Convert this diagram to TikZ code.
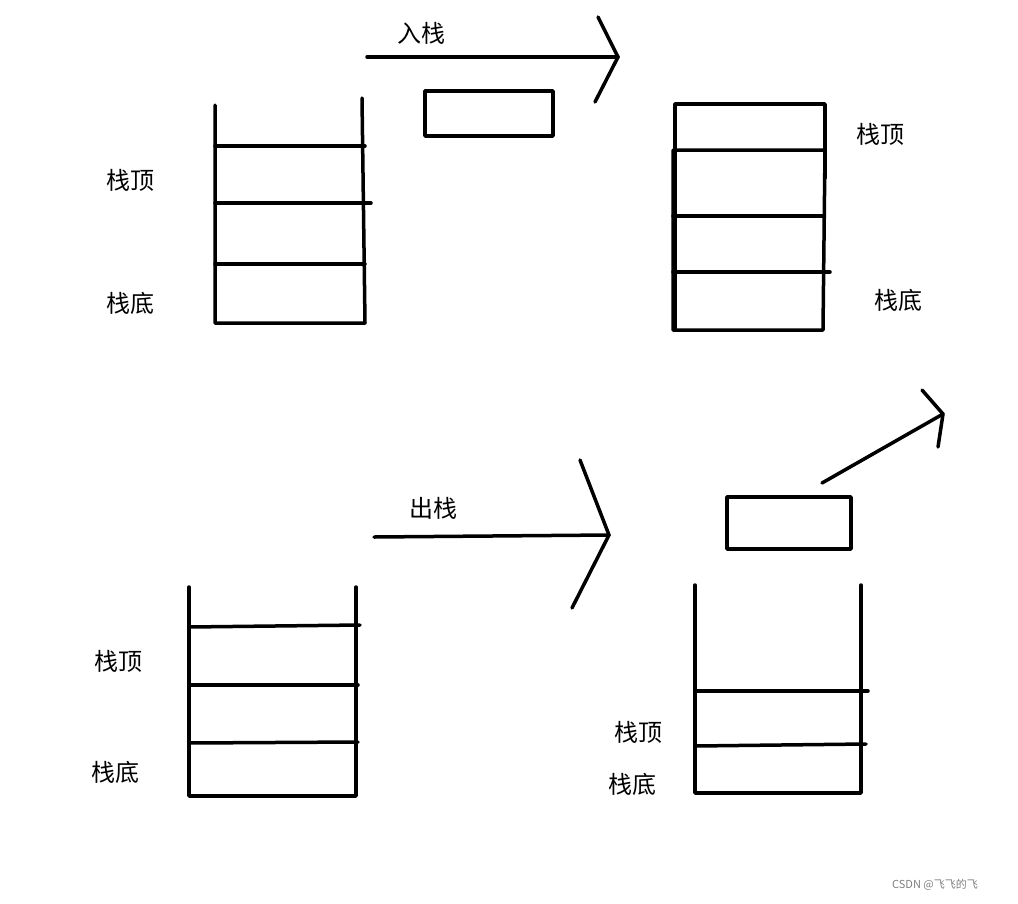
\documentclass[tikz,border=0pt]{standalone}
\usepackage{fontspec}
\newfontfamily\cjk{Noto Sans CJK SC}
\begin{document}
\begin{tikzpicture}[x=1pt,y=-1pt,
  ln/.style={line width=3.5pt,line cap=round,line join=round},
  lbl/.style={font=\cjk\fontsize{24}{26}\selectfont,inner sep=0pt}]
\useasboundingbox[fill=white] (0,0) rectangle (1018,903);
% top-left stack
\draw[ln] (215,105) -- (215,323) -- (365,323) -- (362,98);
\draw[ln] (215,146) -- (365,146);
\draw[ln] (215,203) -- (371,203);
\draw[ln] (215,264) -- (365,264);
\node[lbl] (tlt) at (130,180) {栈顶};
\node[lbl] (tlb) at (130,303) {栈底};
% push arrow
\coordinate (pa) at (367,57); \coordinate (pb) at (618,57);
\draw[ln] (pa) -- (pb);
\draw[ln] (598,17) -- (pb) -- (595,102);
\node[lbl] (push) at (421,33) {入栈};
\node[ln,draw,minimum width=128pt,minimum height=45pt] (r1) at (489,113.5) {};
% top-right stack
\draw[ln] (675,330) -- (675,104) -- (825,104) -- (825,178);
\draw[ln] (673,150) -- (825,150) -- (823,330) -- (673,330) -- (673,150);
\draw[ln] (673,216) -- (823,216);
\draw[ln] (673,272) -- (830,272);
\node[lbl] (trt) at (880,134) {栈顶};
\node[lbl] (trb) at (898,300) {栈底};
% bottom-left stack
\draw[ln] (189,587) -- (189,796) -- (356,796) -- (356,587);
\draw[ln] (189,627) -- (360,625);
\draw[ln] (189,685) -- (358,685);
\draw[ln] (189,743) -- (358,742);
\node[lbl] (blt) at (118,661) {栈顶};
\node[lbl] (blb) at (115,772) {栈底};
% pop arrow
\coordinate (qa) at (374,537); \coordinate (qb) at (609,535);
\draw[ln] (qa) -- (qb);
\draw[ln] (580,460) -- (qb) -- (572,608);
\node[lbl] (pop) at (433,508) {出栈};
% bottom-right
\node[ln,draw,minimum width=124pt,minimum height=52pt] (r2) at (789,523) {};
\coordinate (ua) at (822,483); \coordinate (ub) at (943,414);
\draw[ln] (ua) -- (ub);
\draw[ln] (922,390) -- (ub) -- (938,447);
\draw[ln] (695,585) -- (695,793) -- (861,793) -- (861,585);
\draw[ln] (695,691) -- (868,691);
\draw[ln] (695,746) -- (866,744);
\node[lbl] (brt) at (638,732) {栈顶};
\node[lbl] (brb) at (632,784) {栈底};
\node[font=\cjk\fontsize{11}{13}\selectfont,text=gray,inner sep=0pt] (wm) at (935,885) {CSDN @飞飞的飞};
\end{tikzpicture}
\end{document}
